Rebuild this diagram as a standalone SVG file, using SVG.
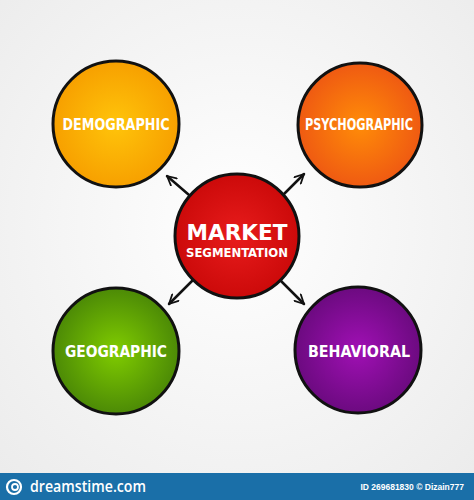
<svg xmlns="http://www.w3.org/2000/svg" width="474" height="500" viewBox="0 0 474 500">
<defs>
<radialGradient id="bg" cx="50%" cy="45%" r="70%"><stop offset="0" stop-color="#ffffff"/><stop offset="1" stop-color="#ececec"/></radialGradient>
<radialGradient id="gY" cx="50%" cy="50%" r="50%"><stop offset="0" stop-color="#ffc40a"/><stop offset="1" stop-color="#f7a000"/></radialGradient>
<radialGradient id="gO" cx="50%" cy="50%" r="50%"><stop offset="0" stop-color="#ff8c08"/><stop offset="1" stop-color="#ef5a12"/></radialGradient>
<radialGradient id="gR" cx="50%" cy="50%" r="50%"><stop offset="0" stop-color="#e81c1c"/><stop offset="1" stop-color="#cc0a0a"/></radialGradient>
<radialGradient id="gG" cx="50%" cy="50%" r="50%"><stop offset="0" stop-color="#80cc00"/><stop offset="1" stop-color="#4c8a06"/></radialGradient>
<radialGradient id="gP" cx="50%" cy="50%" r="50%"><stop offset="0" stop-color="#a010b4"/><stop offset="1" stop-color="#6c0a80"/></radialGradient>
<marker id="ah" viewBox="0 0 10 10" refX="9" refY="5" markerWidth="4.5" markerHeight="4.5" orient="auto" markerUnits="strokeWidth">
<path d="M1,1 L9,5 L1,9" fill="none" stroke="#111" stroke-width="1.6" stroke-linecap="round" stroke-linejoin="round"/>
</marker>
</defs>
<style>
.c{stroke:#111;stroke-width:3}
.t{font-family:"DejaVu Sans Condensed","DejaVu Sans",sans-serif;font-weight:bold;fill:#fff;text-anchor:middle}
.l{stroke:#111;stroke-width:2.5;fill:none;stroke-linecap:round}
</style>
<rect width="474" height="500" fill="url(#bg)"/>
<g id="connectors">
<line class="l" x1="196" y1="201" x2="167" y2="176" marker-end="url(#ah)"/>
<line class="l" x1="280" y1="198" x2="304" y2="174" marker-end="url(#ah)"/>
<line class="l" x1="193" y1="280" x2="169" y2="304" marker-end="url(#ah)"/>
<line class="l" x1="281" y1="281" x2="304" y2="304" marker-end="url(#ah)"/>
</g>
<g id="demographic">
<circle class="c" cx="116" cy="124" r="63" fill="url(#gY)"/>
<text class="t" x="116" y="130" font-size="16" textLength="107" lengthAdjust="spacingAndGlyphs">DEMOGRAPHIC</text>
</g>
<g id="psychographic">
<circle class="c" cx="360" cy="125" r="62" fill="url(#gO)"/>
<text class="t" x="359" y="130" font-size="16" textLength="108" lengthAdjust="spacingAndGlyphs">PSYCHOGRAPHIC</text>
</g>
<g id="market-segmentation">
<circle class="c" cx="237" cy="236" r="62" fill="url(#gR)"/>
<text class="t" x="237" y="240" font-size="22" textLength="101" lengthAdjust="spacingAndGlyphs">MARKET</text>
<text class="t" x="237" y="257" font-size="13" textLength="102" lengthAdjust="spacingAndGlyphs">SEGMENTATION</text>
</g>
<g id="geographic">
<circle class="c" cx="116" cy="351" r="63" fill="url(#gG)"/>
<text class="t" x="116" y="357" font-size="16" textLength="102" lengthAdjust="spacingAndGlyphs">GEOGRAPHIC</text>
</g>
<g id="behavioral">
<circle class="c" cx="358" cy="350" r="63" fill="url(#gP)"/>
<text class="t" x="359" y="357" font-size="16" textLength="102" lengthAdjust="spacingAndGlyphs">BEHAVIORAL</text>
</g>
<g id="banner">
<rect x="0" y="473" width="474" height="27" fill="#1a6fa8"/>
<circle cx="14" cy="487" r="7" fill="none" stroke="#fff" stroke-width="2.2"/>
<circle cx="15" cy="487" r="3" fill="none" stroke="#fff" stroke-width="1.8"/>
<text x="30" y="492" font-family="'Open Sans','DejaVu Sans',sans-serif" font-size="16" font-weight="600" fill="#fff" textLength="116" lengthAdjust="spacingAndGlyphs">dreamstime.com</text>
<text x="464" y="490" font-family="'Liberation Sans',Arial,sans-serif" font-size="8.5" font-weight="bold" fill="#fff" text-anchor="end">ID 269681830 © Dizain777</text>
</g>
</svg>
